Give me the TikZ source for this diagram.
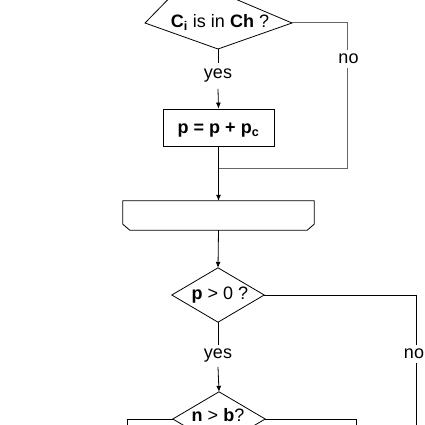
\documentclass[tikz,border=0pt]{standalone}
\usepackage{fontspec}
\setmainfont{Liberation Sans}
\usetikzlibrary{arrows.meta,calc}
\begin{document}
\begin{tikzpicture}[x=1pt,y=1pt,yscale=-1,
  line/.style={line width=0.8pt, draw=black},
  arr/.style={line width=0.8pt, draw=black, -{Latex[length=6pt,width=5pt]}},
  lbl/.style={font=\fontsize{18}{20}\selectfont, inner xsep=2pt, inner ysep=4pt, fill=white, text=black},
  txt/.style={font=\fontsize{18}{20}\selectfont, inner sep=0pt},
  graybranch/.style={line width=1pt, draw=black!60},
  shapebox/.style={inner sep=0pt, font=\fontsize{18}{20}\selectfont}
]
\useasboundingbox (0,0) rectangle (425,425);
\clip (0,0) rectangle (425,425);

% top decision
\coordinate (d1l) at (145,23);
\coordinate (d1r) at (292,23);
\coordinate (d1b) at (218,49);
\coordinate (d1t) at (188,-21);
\draw[line] (d1l) -- (d1t) -- (d1r) -- (d1b) -- cycle;
\node[txt, anchor=base] (d1) at (220,27.5) {\textbf{C\textsubscript{i}} is in \textbf{Ch} ?};

% labels
\node[lbl, inner ysep=6pt] (yes1) at (218,76) {yes};
\node[lbl] (no1) at (348.5,59) {no};
\node[lbl] (yes2) at (218,356) {yes};
\node[lbl] (no2) at (414,354) {no};

% box p = p + pc
\node[line, draw, shapebox, minimum width=111pt, minimum height=37pt, text height=14pt, text depth=2pt] (box1) at (218.5,127.5) {\bfseries p = p + p\textsubscript{c}};

% wide box with chamfered bottom
\node[shapebox, minimum width=191pt, minimum height=29pt] (box2) at (218.5,215.5) {};
\draw[line] ($(box2.south west)+(7,0)$) -- ($(box2.south west)+(0,-6)$) -- (box2.north west) -- (box2.north east) -- ($(box2.south east)+(0,-6)$) -- ($(box2.south east)+(-7,0)$) -- cycle;

% p > 0 decision
\node[shapebox, minimum width=92pt, minimum height=54pt] (d2) at (218,295) {};
\draw[line] (d2.north) -- (d2.east) -- (d2.south) -- (d2.west) -- cycle;
\node[txt, anchor=base] (d2t) at (220,299) {\textbf{p} > 0 ?};

% n > b decision
\node[shapebox, minimum width=92pt, minimum height=54pt] (d3) at (219,419) {};
\draw[line] (d3.north) -- (d3.east) -- (d3.south) -- (d3.west) -- cycle;
\node[txt, anchor=base] (d3t) at (218,421) {\textbf{n} > \textbf{b}?};

% connectors
\draw[line] (d1b) -- (yes1.north);
\draw[arr] (yes1.south) -- (box1.north);

\coordinate (nc1) at (347,23);
\coordinate (nc2) at (347,168);
\coordinate (m1) at (218,168);
\draw[graybranch] (d1r) -- (nc1) -- (no1.north -| nc1);
\draw[graybranch] (no1.south -| nc1) -- (nc2) -- (m1);

\draw[arr] (box1.south) -- (box2.north);
\draw[arr] (box2.south) -- (d2.north);

\coordinate (nc3) at (416,295);
\coordinate (nc4) at (416,440);
\draw[line] (d2.east) -- (nc3) -- (no2.north -| nc3);
\draw[line] (no2.south -| nc3) -- (nc4);

\draw[line] (d2.south) -- (yes2.north);
\draw[arr] (yes2.south) -- (d3.north);

\coordinate (l1) at (127,419);
\coordinate (l2) at (127,440);
\coordinate (r1) at (356,419);
\coordinate (r2) at (356,440);
\draw[line] (d3.west) -- (l1) -- (l2);
\draw[line] (d3.east) -- (r1) -- (r2);
\end{tikzpicture}
\end{document}
